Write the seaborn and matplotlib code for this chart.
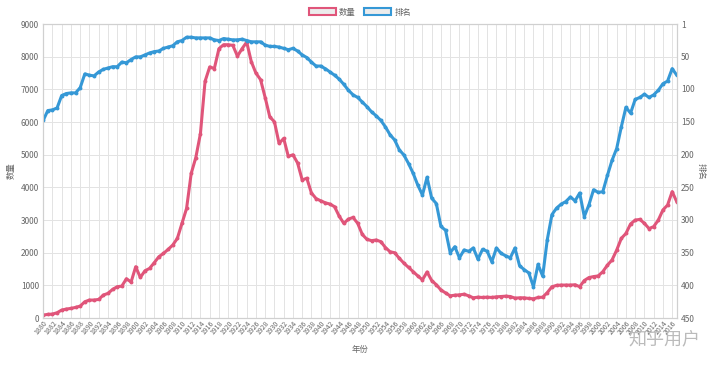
import numpy as np
import pandas as pd
import seaborn as sns
import matplotlib.pyplot as plt
from matplotlib.patches import Patch

# data
years = list(range(1880, 2018))
counts = [
    92, 112, 122, 163, 245, 275, 296, 326, 367, 500,
    551, 551, 571, 704, 755, 877, 959, 979, 1204, 1102,
    1571, 1244, 1448, 1520, 1693, 1877, 1979, 2101, 2234, 2438,
    2897, 3356, 4427, 4916, 5650, 7250, 7690, 7640, 8250, 8370,
    8370, 8350, 8020, 8250, 8450, 7850, 7500, 7300, 6750, 6160,
    6010, 5350, 5500, 4950, 5000, 4750, 4230, 4280, 3830, 3660,
    3590, 3530, 3490, 3410, 3120, 2900, 3030, 3080, 2900, 2560,
    2410, 2370, 2390, 2340, 2160, 2030, 2000, 1830, 1680, 1550,
    1420, 1290, 1170, 1410, 1150, 1020, 860, 770, 680, 700,
    710, 730, 680, 620, 640, 630, 640, 630, 650, 660,
    670, 660, 610, 620, 620, 600, 590, 630, 640, 780,
    960, 1000, 1010, 1010, 1010, 1020, 960, 1150, 1240, 1270,
    1290, 1420, 1620, 1780, 2080, 2440, 2590, 2880, 3000, 3020,
    2900, 2740, 2800, 3000, 3310, 3460, 3870, 3560,
]
ranks = [
    148, 133, 132, 129, 110, 107, 106, 106, 98, 77,
    79, 80, 74, 70, 68, 66, 66, 59, 60, 55,
    51, 51, 48, 45, 43, 42, 38, 36, 34, 28,
    26, 21, 21, 22, 22, 22, 22, 25, 26, 23,
    24, 25, 25, 24, 26, 28, 28, 28, 33, 35,
    35, 36, 38, 40, 38, 42, 48, 52, 59, 65,
    65, 69, 74, 79, 85, 93, 102, 109, 113, 120,
    127, 135, 141, 148, 158, 170, 178, 193, 201, 214,
    229, 247, 262, 235, 267, 275, 310, 316, 350, 341,
    358, 346, 348, 343, 360, 345, 348, 364, 343, 351,
    355, 358, 343, 370, 376, 381, 402, 368, 386, 330,
    292, 282, 276, 272, 265, 271, 259, 295, 277, 254,
    258, 257, 232, 209, 191, 158, 128, 137, 116, 113,
    108, 113, 109, 102, 92, 88, 69, 79,
]
count_ticks = list(range(0, 9001, 1000))
rank_ticks = [1] + list(range(50, 451, 50))

df = pd.DataFrame({"年份": years, "数量": counts, "排名": ranks})

red = "#e0557a"
blue = "#3598d6"

sns.set_theme(style="whitegrid")
plt.rcParams['font.family'] = ['Noto Sans CJK SC', 'DejaVu Sans']

fig = plt.figure(figsize=(7.2, 3.66), dpi=100)
ax = fig.add_axes([0.060, 0.131, 0.880, 0.803])
ax2 = ax.twinx()

sns.lineplot(data=df, x="年份", y="数量", ax=ax, color=red, linewidth=2.2,
             marker="o", markersize=2.8, markeredgewidth=0)
sns.lineplot(data=df, x="年份", y="排名", ax=ax2, color=blue, linewidth=2.2,
             marker="o", markersize=2.8, markeredgewidth=0)

ax.set_xlim(1880, 2017)
ax.set_ylim(0, 9000)
ax.set_yticks(count_ticks)
ax2.set_ylim(450, 1)
ax2.set_yticks(rank_ticks)
ax2.grid(False)

xt = years[::2]
ax.set_xticks(xt)
ax.set_xticklabels([str(y) for y in xt], rotation=50, ha="right",
                   rotation_mode="anchor", fontsize=5, color="#666666")
ax.tick_params(axis="x", pad=1, length=0)
ax.tick_params(axis="y", labelsize=6, colors="#666666", pad=3, length=0)
ax2.tick_params(axis="y", labelsize=6, colors="#666666", pad=3, length=0)

for a in (ax, ax2):
    for s in a.spines.values():
        s.set_color("#d0d0d0")
        s.set_linewidth(0.8)
ax.grid(True, color="#e3e3e3", linewidth=0.7)
ax.set_facecolor("white")

ax.set_xlabel("年份", fontsize=6, color="#666666", labelpad=6)
ax.set_ylabel("数量", fontsize=6, color="#666666", labelpad=4)
ax2.set_ylabel("排名", fontsize=6, color="#666666", rotation=-90, labelpad=8)

handles = [Patch(facecolor="#ececec", edgecolor=red, linewidth=1.5, label="数量"),
           Patch(facecolor="#ececec", edgecolor=blue, linewidth=1.5, label="排名")]
fig.legend(handles=handles, loc="upper center", bbox_to_anchor=(0.5, 1.0),
           ncol=2, frameon=False, fontsize=6, handlelength=3.2, handleheight=1.0,
           columnspacing=1.0, handletextpad=0.4, labelcolor="#666666")

fig.text(0.973, 0.045, "知乎用户", fontsize=13, color="#bbbbbb", ha="right", va="bottom")

plt.savefig("out.png", dpi=100)
